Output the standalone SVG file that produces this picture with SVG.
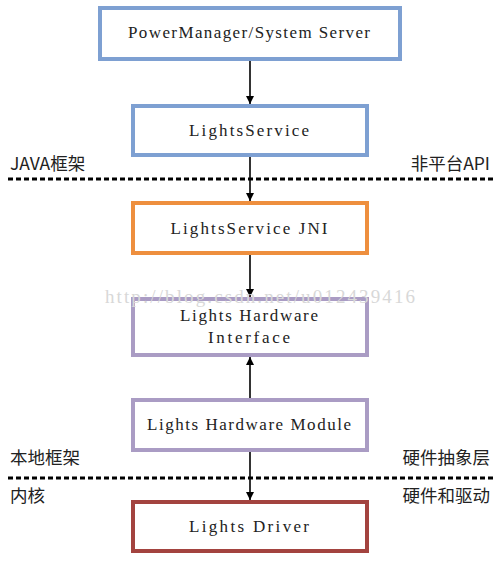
<svg xmlns="http://www.w3.org/2000/svg" width="501" height="572" viewBox="0 0 501 572">
<style>
.box{fill:#fff;stroke-width:4;}
.t{font-family:"Liberation Serif","Noto Sans CJK SC",serif;font-size:17px;fill:#222;text-anchor:middle;}
.lbl{font-family:"Noto Sans CJK SC",sans-serif;font-size:17.5px;fill:#222;}
.conn{stroke:#000;stroke-width:1.6;fill:none;}
.dash{stroke:#000;stroke-width:3;stroke-dasharray:5 3;fill:none;}
.wm{font-family:"Liberation Serif",serif;font-size:19px;fill:#d8d8d8;text-anchor:middle;}
</style>
<defs>
<marker id="ah" viewBox="0 0 10 10" refX="10" refY="5" markerWidth="8" markerHeight="8" markerUnits="userSpaceOnUse" orient="auto">
<path d="M0,0 L10,5 L0,10 z" fill="#000"/>
</marker>
</defs>
<rect width="501" height="572" fill="#fff"/>
<g id="layers">
<line class="dash" x1="8" y1="179" x2="494" y2="179"/>
<line class="dash" x1="8" y1="478" x2="494" y2="478"/>
<text class="lbl" x="10" y="170">JAVA框架</text>
<text class="lbl" x="490" y="170" text-anchor="end">非平台API</text>
<text class="lbl" x="10" y="464">本地框架</text>
<text class="lbl" x="490" y="464" text-anchor="end">硬件抽象层</text>
<text class="lbl" x="10" y="502">内核</text>
<text class="lbl" x="490" y="502" text-anchor="end">硬件和驱动</text>
</g>
<g id="connectors">
<line class="conn" x1="250" y1="61" x2="250" y2="104" marker-end="url(#ah)"/>
<line class="conn" x1="250" y1="157" x2="250" y2="201" marker-end="url(#ah)"/>
<line class="conn" x1="250" y1="255" x2="250" y2="297" marker-end="url(#ah)"/>
<line class="conn" x1="250" y1="398" x2="250" y2="357" marker-end="url(#ah)"/>
<line class="conn" x1="250" y1="452" x2="250" y2="500" marker-end="url(#ah)"/>
</g>
<g id="n1"><rect class="box" x="100" y="8" width="300" height="51" stroke="#7EA0D2"/><text class="t" x="249" y="38" textLength="242" lengthAdjust="spacing">PowerManager/System Server</text></g>
<g id="n2"><rect class="box" x="133" y="106" width="234" height="49" stroke="#7EA0D2"/><text class="t" x="249" y="136" textLength="120" lengthAdjust="spacing">LightsService</text></g>
<g id="n3"><rect class="box" x="133" y="203" width="234" height="50" stroke="#EE8F3E"/><text class="t" x="249" y="234" textLength="157" lengthAdjust="spacing">LightsService JNI</text></g>
<g id="n4"><rect class="box" x="133" y="299" width="234" height="56" stroke="#AA9CC4"/><text class="t" x="249" y="321" textLength="138" lengthAdjust="spacing">Lights Hardware</text><text class="t" x="249" y="343" textLength="82" lengthAdjust="spacing">Interface</text></g>
<g id="n5"><rect class="box" x="133" y="400" width="234" height="50" stroke="#AA9CC4"/><text class="t" x="249" y="430" textLength="204" lengthAdjust="spacing">Lights Hardware Module</text></g>
<g id="n6"><rect class="box" x="133" y="502" width="234" height="49" stroke="#A3433F"/><text class="t" x="249" y="532" textLength="120" lengthAdjust="spacing">Lights Driver</text></g>
<text class="wm" x="260" y="303" textLength="310" lengthAdjust="spacing">http://blog.csdn.net/u012439416</text>
</svg>
